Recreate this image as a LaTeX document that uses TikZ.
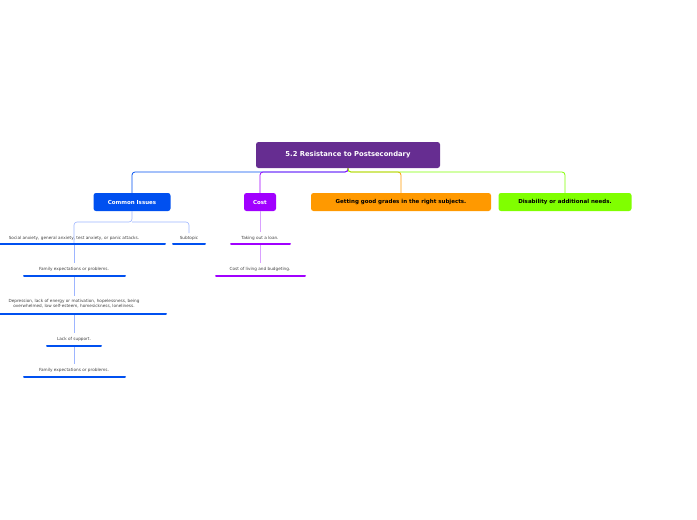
\documentclass[tikz,border=0pt]{standalone}
\usepackage{fontspec}
\setmainfont{DejaVu Sans}
\definecolor{cRoot}{HTML}{662D91}
\definecolor{cBlue}{HTML}{0050F0}
\definecolor{cLBlue}{HTML}{9DB5FF}
\definecolor{cPur}{HTML}{A100FF}
\definecolor{cLPur}{HTML}{D9A0FF}
\definecolor{cOr}{HTML}{FF9900}
\definecolor{cGr}{HTML}{80FF00}
\begin{document}
\begin{tikzpicture}[x=1pt,y=-1pt,
  topic/.style={rounded corners=2.5pt,font=\bfseries\fontsize{5.5}{6}\selectfont,inner sep=0pt,text=white},
  sub/.style={font=\fontsize{4.2}{5.2}\selectfont,text=black!75,align=center},
  uline/.style={line width=2pt,line cap=round},
  conn/.style={line width=0.8pt,rounded corners=3pt}]
\useasboundingbox (0,0) rectangle (697,520);
\node[topic,fill=cRoot,minimum width=184pt,minimum height=26pt,font=\bfseries\fontsize{6.8}{8}\selectfont] (root) at (348,155) {5.2 Resistance to Postsecondary};
\node[topic,fill=cBlue,minimum width=77pt,minimum height=18pt] (ci) at (132,202) {Common Issues};
\node[topic,fill=cPur,minimum width=32pt,minimum height=18pt] (cost) at (260,202) {Cost};
\node[topic,fill=cOr,minimum width=180pt,minimum height=18pt,text=black] (gg) at (401,202) {Getting good grades in the right subjects.};
\node[topic,fill=cGr,minimum width=133pt,minimum height=18pt,text=black] (dis) at (565,202) {Disability or additional needs.};
\draw[conn,cBlue] (root.south) |- (140,172) -| (ci.north);
\draw[conn,cPur] (348,168) |- (268,172) -| (cost.north);
\draw[conn,cOr] (348,168) |- (395,172) -| (gg.north);
\draw[conn,cGr] (348,168) |- (555,172) -| (dis.north);
% common issues subtopics
\node[sub] (s1) at (74,238) {Social anxiety, general anxiety, test anxiety, or panic attacks.};
\coordinate (s1a) at (-17,244); \coordinate (s1b) at (165,244);
\node[sub] (s2) at (189,238) {Subtopic};
\coordinate (s2a) at (173,244); \coordinate (s2b) at (205,244);
\node[sub] (s3) at (74,269) {Family expectations or problems.};
\coordinate (s3a) at (24,276); \coordinate (s3b) at (125,276);
\node[sub] (s4) at (74,303.5) {Depression, lack of energy or motivation, hopelessness, being\\overwhelmed, low self-esteem, homesickness, loneliness.};
\coordinate (s4a) at (-20,314); \coordinate (s4b) at (166,314);
\node[sub] (s5) at (74,339) {Lack of support.};
\coordinate (s5a) at (47,346); \coordinate (s5b) at (101,346);
\node[sub] (s6) at (74,370) {Family expectations or problems.};
\coordinate (s6a) at (24,377); \coordinate (s6b) at (125,377);
\draw[conn,cLBlue,line width=0.6pt] (ci.south) -- (132,222) -| (74,244);
\draw[conn,cLBlue,line width=0.6pt] (132,222) -| (189,233);
\draw[cLBlue,line width=0.6pt] (74,244) -- (s3.north) (74,276) -- (s4.north) (74,314) -- (s5.north) (74,346) -- (s6.north);
\foreach \a/\b in {s1a/s1b,s2a/s2b,s3a/s3b,s4a/s4b,s5a/s5b,s6a/s6b} \draw[uline,cBlue] (\a) -- (\b);
% cost subtopics
\node[sub] (c1) at (260,238) {Taking out a loan.};
\coordinate (c1a) at (231,244); \coordinate (c1b) at (290,244);
\node[sub] (c2) at (260,269) {Cost of living and budgeting.};
\coordinate (c2a) at (216,276); \coordinate (c2b) at (305,276);
\draw[cLPur,line width=0.6pt] (cost.south) -- (c1.north) (260,244) -- (c2.north);
\draw[uline,cPur] (c1a) -- (c1b);
\draw[uline,cPur] (c2a) -- (c2b);
\end{tikzpicture}
\end{document}
